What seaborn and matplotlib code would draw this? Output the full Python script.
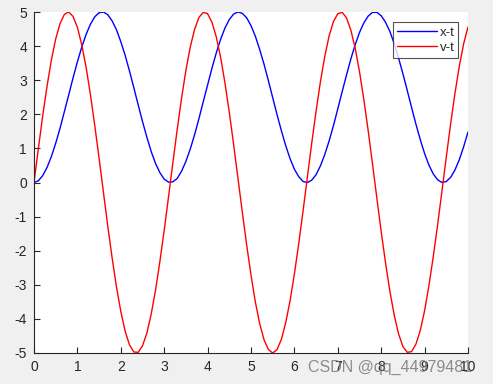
import matplotlib
matplotlib.use("Agg")
import matplotlib.pyplot as plt
import seaborn as sns
import pandas as pd

t = [round(0.1 * i, 1) for i in range(101)]
x_vals = [0.00, 0.05, 0.20, 0.44, 0.76, 1.15, 1.59, 2.08, 2.57, 3.07,
          3.54, 3.97, 4.34, 4.64, 4.86, 4.98, 5.00, 4.92, 4.74, 4.48,
          4.13, 3.73, 3.27, 2.78, 2.28, 1.79, 1.33, 0.91, 0.56, 0.29,
          0.10, 0.01, 0.02, 0.12, 0.33, 0.62, 0.98, 1.40, 1.87, 2.37,
          2.86, 3.35, 3.80, 4.20, 4.53, 4.78, 4.94, 5.00, 4.96, 4.83,
          4.60, 4.29, 3.90, 3.47, 2.99, 2.49, 1.99, 1.52, 1.08, 0.70,
          0.39, 0.17, 0.03, 0.00, 0.07, 0.23, 0.49, 0.82, 1.22, 1.67,
          2.16, 2.66, 3.15, 3.62, 4.04, 4.40, 4.68, 4.88, 4.99, 4.99,
          4.89, 4.70, 4.43, 4.07, 3.65, 3.19, 2.70, 2.20, 1.71, 1.26,
          0.85, 0.51, 0.25, 0.08, 0.00, 0.03, 0.15, 0.37, 0.67, 1.05,
          1.48]
v_vals = [0.00, 0.99, 1.95, 2.82, 3.59, 4.21, 4.66, 4.93, 5.00, 4.87,
          4.55, 4.04, 3.38, 2.58, 1.67, 0.71, -0.29, -1.28, -2.21, -3.06,
          -3.78, -4.36, -4.76, -4.97, -4.98, -4.79, -4.42, -3.86, -3.16, -2.32,
          -1.40, -0.42, 0.58, 1.56, 2.47, 3.29, 3.97, 4.49, 4.84, 4.99,
          4.95, 4.70, 4.27, 3.67, 2.92, 2.06, 1.11, 0.12, -0.87, -1.83,
          -2.72, -3.50, -4.14, -4.61, -4.90, -5.00, -4.90, -4.60, -4.11, -3.47,
          -2.68, -1.79, -0.83, 0.17, 1.16, 2.10, 2.96, 3.70, 4.30, 4.72,
          4.95, 4.99, 4.83, 4.47, 3.94, 3.25, 2.43, 1.52, 0.54, -0.46,
          -1.44, -2.36, -3.19, -3.89, -4.44, -4.81, -4.98, -4.96, -4.74, -4.34,
          -3.76, -3.02, -2.17, -1.24, -0.25, 0.75, 1.72, 2.62, 3.41, 4.07,
          4.56]
series_names = ["x-t", "v-t"]
x_ticks = list(range(0, 11))
y_ticks = list(range(-5, 6))

df = pd.DataFrame({
    "t": t * 2,
    "val": x_vals + v_vals,
    "series": [series_names[0]] * len(t) + [series_names[1]] * len(t),
})

sns.set_style("white")
plt.rcParams["font.family"] = ["Liberation Sans", "DejaVu Sans"]
plt.rcParams["axes.unicode_minus"] = False

fig = plt.figure(figsize=(4.93, 3.84), dpi=100, facecolor="#f0f0f0")
ax = fig.add_axes([34 / 493, 1 - 353 / 384, (468 - 34) / 493, (353 - 12) / 384])
ax.set_facecolor("white")

sns.lineplot(data=df, x="t", y="val", hue="series",
             palette={"x-t": "#0000ff", "v-t": "#ff0000"},
             linewidth=1.0, ax=ax, legend=True)

ax.set_xlim(0, 10)
ax.set_ylim(-5, 5)
ax.set_xticks(x_ticks)
ax.set_yticks(y_ticks)
ax.set_xlabel("")
ax.set_ylabel("")
for s in ["top", "right"]:
    ax.spines[s].set_visible(False)
for s in ["left", "bottom"]:
    ax.spines[s].set_color("#262626")
    ax.spines[s].set_linewidth(0.8)
ax.tick_params(axis="both", direction="in", length=4, width=0.8,
               colors="#262626", labelsize=10, pad=5,
               left=True, bottom=True)

leg = ax.legend(loc="upper right", bbox_to_anchor=(0.984, 0.977),
                frameon=True, fontsize=9.5, handlelength=3.0,
                borderpad=0.3, labelspacing=0.2, handletextpad=0.2,
                fancybox=False, borderaxespad=0.2)
leg.get_frame().set_edgecolor("#262626")
leg.get_frame().set_linewidth(0.8)
for line in leg.get_lines():
    line.set_linewidth(1.0)

fig.text(308 / 493, 1 - 367 / 384, "CSDN @qq_44979481", fontsize=11.5,
         color="#7a7a7a", alpha=0.85, va="center", ha="left")

fig.savefig("out.png", dpi=100, facecolor=fig.get_facecolor())
